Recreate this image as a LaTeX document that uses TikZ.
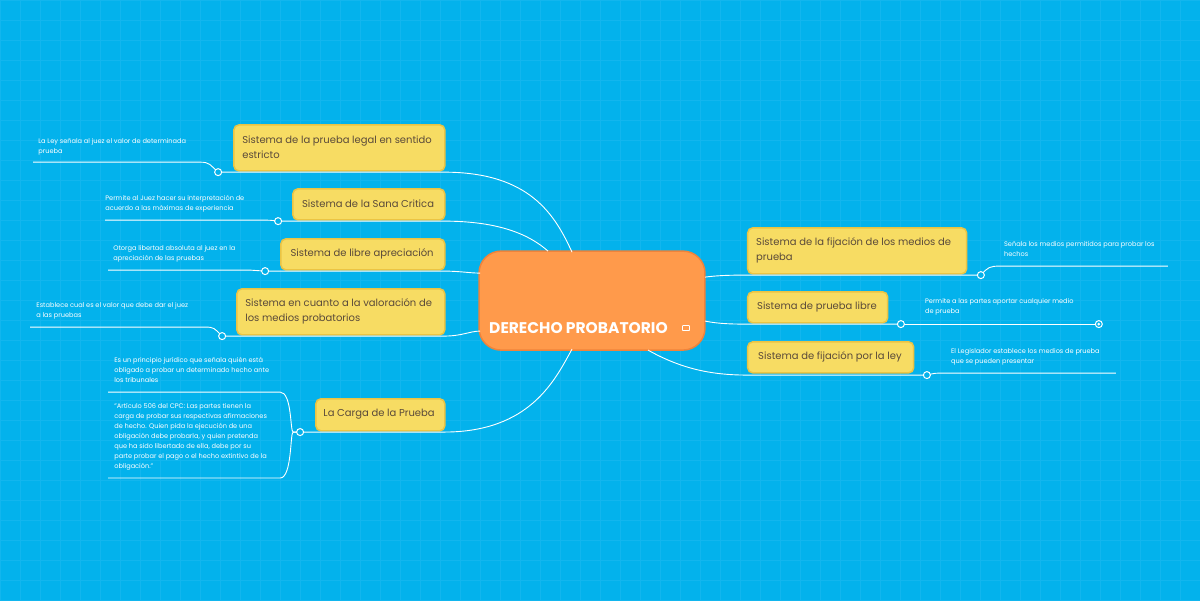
\documentclass[tikz,border=0pt]{standalone}
\usepackage{fontspec}
\setmainfont{Poppins}
\definecolor{bg}{HTML}{03B2EC}
\definecolor{gridc}{HTML}{12B6EE}
\definecolor{ybox}{HTML}{F7DC63}
\definecolor{ybord}{HTML}{EBC443}
\definecolor{obox}{HTML}{FF9A4B}
\definecolor{obord}{HTML}{F0833A}
\definecolor{txt}{HTML}{5A4A3A}
\begin{document}
\begin{tikzpicture}[x=1pt,y=-1pt,
  yb/.style={draw=ybord,line width=1.5pt,fill=ybox,rounded corners=5pt,anchor=north west,inner sep=0pt,minimum width=#1},
  bt/.style={font=\fontsize{10}{15}\selectfont,text=txt,align=left,inner sep=0pt},
  lf/.style={text=white,font=\fontsize{6.6}{10}\selectfont,align=left,anchor=north west,inner sep=0pt},
  cn/.style={white,line width=0.9pt},
  dot/.style={circle,draw=white,fill=bg,line width=1pt,minimum size=7pt,inner sep=0pt}]
\fill[bg] (0,0) rectangle (1200,600);
\foreach \i in {0,20,...,1200} \draw[gridc,line width=0.4pt] (\i,0) -- (\i,600);
\foreach \i in {0,20,...,600} \draw[gridc,line width=0.4pt] (0,\i) -- (1200,\i);
\useasboundingbox (0,0) rectangle (1200,600);
% central
\node[draw=obord,line width=1.5pt,fill=obox,rounded corners=22pt,minimum width=226pt,minimum height=99pt,inner sep=0pt] (c) at (592,300.5) {};
\node[text=white,font=\fontsize{15.5}{15}\bfseries\selectfont,anchor=west,inner sep=0pt] (ct) at (489,328) {DERECHO PROBATORIO};
\node[draw=white,line width=0.7pt,minimum width=7pt,minimum height=5pt,inner sep=0pt,rounded corners=0.5pt] (ic) at (686,328) {};
% boxes left
\node[yb=211pt,minimum height=46pt] (l1) at (233,124) {};
\node[bt,anchor=west] at (242,147) {Sistema de la prueba legal en sentido\\estricto};
\node[yb=152pt,minimum height=31pt] (l2) at (292,188) {};
\node[bt] at (368,204) {Sistema de la Sana Critica};
\node[yb=164pt,minimum height=31pt] (l3) at (280,238) {};
\node[bt] at (362,254) {Sistema de libre apreciación};
\node[yb=208pt,minimum height=46pt] (l4) at (236,288) {};
\node[bt,anchor=west] at (245,311) {Sistema en cuanto a la valoración de\\los medios probatorios};
\node[yb=129pt,minimum height=32pt] (l5) at (315,398) {};
\node[bt] at (379,414.5) {La Carga de la Prueba};
% boxes right
\node[yb=219pt,minimum height=46pt] (r1) at (747,227) {};
\node[bt,anchor=west] at (756,250) {Sistema de la fijación de los medios de\\prueba};
\node[yb=140pt,minimum height=31pt] (r2) at (747,291) {};
\node[bt] at (817,307) {Sistema de prueba libre};
\node[yb=166pt,minimum height=31pt] (r3) at (747,341) {};
\node[bt] at (830,357) {Sistema de fijación por la ley};
% connectors
\coordinate (a1) at (218,172); \coordinate (a2) at (278,221); \coordinate (a3) at (265,271);
\coordinate (a4) at (222,336); \coordinate (a5) at (300,432);
\coordinate (b1) at (981,275); \coordinate (b2) at (901,324); \coordinate (b3) at (927,375);
\draw[cn] (a1) -- (444,172) .. controls (530,172) and (555,215) .. (572,252);
\draw[cn] (a2) -- (444,221) .. controls (500,221) and (530,235) .. (548,251);
\draw[cn] (a3) -- (444,271) .. controls (460,271) and (470,273) .. (480,273);
\draw[cn] (a4) -- (444,336) .. controls (462,336) and (470,331) .. (480,331);
\draw[cn] (a5) -- (444,432) .. controls (530,432) and (555,380) .. (572,349);
\draw[cn] (705,277) .. controls (720,275) and (735,275) .. (747,275) -- (b1);
\draw[cn] (705,321) .. controls (720,324) and (735,324) .. (747,324) -- (b2);
\draw[cn] (648,350) .. controls (680,368) and (710,375) .. (747,375) -- (b3);
% leaves
\draw[cn] (a1) .. controls (210,165) and (210,162) .. (200,162) -- (33,162);
\draw[cn] (a2) .. controls (270,220) .. (260,220) -- (105,220);
\draw[cn] (a3) .. controls (258,270) .. (250,270) -- (108,270);
\draw[cn] (a4) .. controls (214,328) and (214,327) .. (205,327) -- (30,327);
\draw[cn] (a5) -- (293,432) .. controls (290,432) and (292,392) .. (280,392) -- (108,392);
\draw[cn] (a5) -- (293,432) .. controls (290,432) and (292,478) .. (280,478) -- (108,478);
\draw[cn] (b1) .. controls (988,267) and (990,266) .. (1000,266) -- (1168,266);
\draw[cn] (b2) -- (1099,324);
\draw[cn] (b3) .. controls (935,373) .. (945,373) -- (1116,373);
\foreach \p in {a1,a2,a3,a4,a5,b1,b2,b3} \node[dot] at (\p) {};
\node[dot] (e2) at (1099,324) {}; \fill[white] (e2) circle (1.5pt);
% leaf texts
\node[lf] at (38,138) {La Ley señala al juez el valor de determinada\\prueba};
\node[lf] at (105,195) {Permite al Juez hacer su interpretación de\\acuerdo a las máximas de experiencia};
\node[lf] at (113,245) {Otorga libertad absoluta al juez en la\\apreciación de las pruebas};
\node[lf] at (36,302) {Establece cual es el valor que debe dar el juez\\a las pruebas};
\node[lf] at (114,357) {Es un principio jurídico que señala quién está\\obligado a probar un determinado hecho ante\\los tribunales};
\node[lf] at (114,403) {"Artículo 506 del CPC: Las partes tienen la\\carga de probar sus respectivas afirmaciones\\de hecho. Quien pida la ejecución de una\\obligación debe probarla, y quien pretenda\\que ha sido libertado de ella, debe por su\\parte probar el pago o el hecho extintivo de la\\obligación."};
\node[lf] at (1004,241) {Señala los medios permitidos para probar los\\hechos};
\node[lf] at (925,298) {Permite a las partes aportar cualquier medio\\de prueba};
\node[lf] at (951,348) {El Legislador establece los medios de prueba\\que se pueden presentar};
\end{tikzpicture}
\end{document}
